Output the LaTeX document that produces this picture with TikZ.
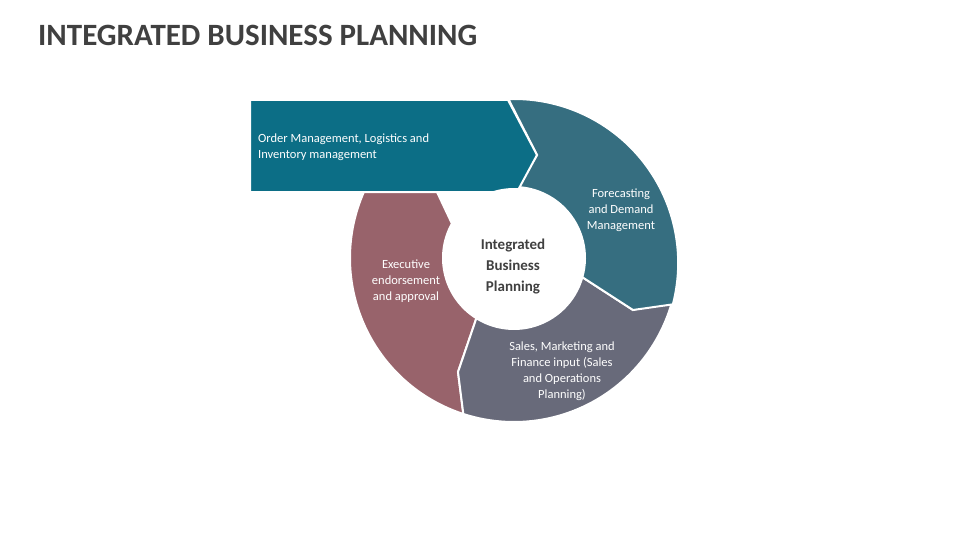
\documentclass[tikz,border=0pt]{standalone}
\usepackage{fontspec}
\setmainfont{Carlito}
\usetikzlibrary{calc}
\begin{document}
\begin{tikzpicture}[x=1pt,y=-1pt]
\definecolor{arrowc}{HTML}{0C6E86}
\definecolor{tealc}{HTML}{366E80}
\definecolor{greyc}{HTML}{686A7A}
\definecolor{redc}{HTML}{98636B}
\definecolor{titlec}{HTML}{404040}
\tikzset{seg/.style={draw=white,line width=2pt,line join=miter},
 lbl/.style={text=white,font=\fontsize{12.5}{16}\selectfont,align=center,inner sep=0pt}}
\useasboundingbox (0,0) rectangle (960,540);
\fill[white] (0,0) rectangle (960,540);
\node[anchor=west,font=\bfseries\fontsize{31}{36}\selectfont,text=titlec,inner sep=0pt] (title) at (38,35) {INTEGRATED BUSINESS PLANNING};
\coordinate (c) at (514,258);
% red
\fill[redc,seg] ($(c)+(108:164)$) arc[start angle=108,end angle=204,radius=164] -- (437,192) -- ($(c)+(209:71)$) arc[start angle=209,end angle=122,radius=71] -- (458,372) -- cycle;
% grey
\fill[greyc,seg] ($(c)+(108:164)$) arc[start angle=108,end angle=14.6,radius=164] -- (633,310) -- ($(c)+(15.7:71)$) arc[start angle=15.7,end angle=122,radius=71] -- (458,372) -- cycle;
% teal
\fill[tealc,seg] ($(c)+(-92:159)$) arc[start angle=-92,end angle=14.6,radius=164] -- (633,310) -- ($(c)+(15.7:71)$) arc[start angle=15.7,end angle=-87,radius=71] -- (537,155) -- cycle;
% arrow
\fill[arrowc,seg] (250,100) -- (508,100) -- (537,155) -- (517,192) -- (250,192) -- cycle;
\fill[white] (c) circle[radius=70];
\node[lbl,align=left,anchor=west] (om) at (258,147) {Order Management, Logistics and\\Inventory management};
\node[lbl] (fc) at (621,210) {Forecasting\\and Demand\\Management};
\node[lbl] (ex) at (406,281) {Executive\\endorsement\\and approval};
\node[lbl] (sm) at (562,371) {Sales, Marketing and\\Finance input (Sales\\and Operations\\Planning)};
\node[align=center,font=\bfseries\fontsize{15}{21}\selectfont,text=titlec,inner sep=0pt] (ibp) at (513,267) {Integrated\\Business\\Planning};
\end{tikzpicture}
\end{document}
